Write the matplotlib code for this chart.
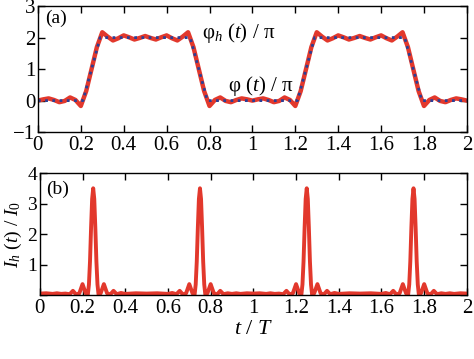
import numpy as np
import matplotlib
matplotlib.use('Agg')
import matplotlib.pyplot as plt

plt.rcParams['font.family'] = 'serif'
plt.rcParams['font.serif'] = ['Liberation Serif', 'DejaVu Serif']
plt.rcParams['mathtext.fontset'] = 'custom'
plt.rcParams['mathtext.rm'] = 'Liberation Serif'
plt.rcParams['mathtext.it'] = 'Liberation Serif:italic'

RED = '#e2382c'
BLUE = '#2b3f96'

# panel (a): phase, sampled every 0.025 T from 0 to 2
t_a = np.round(np.arange(0, 2.0001, 0.025), 3)
phi_h = [0.00, 0.04, 0.07, 0.02, -0.05, -0.01, 0.10, 0.02, -0.17, 0.30,
         1.00, 1.70, 2.17, 2.03, 1.91, 1.98, 2.07, 2.01, 1.94, 1.99,
         2.05, 1.99, 1.94, 2.01, 2.07, 1.98, 1.91, 2.03, 2.17, 1.70,
         1.00, 0.30, -0.17, 0.02, 0.10, -0.01, -0.05, 0.02, 0.07, 0.04,
         0.00, 0.04, 0.07, 0.02, -0.05, -0.01, 0.10, 0.02, -0.17, 0.30,
         1.00, 1.70, 2.17, 2.03, 1.91, 1.98, 2.07, 2.01, 1.94, 1.99,
         2.05, 1.99, 1.94, 2.01, 2.07, 1.98, 1.91, 2.03, 2.17, 1.70,
         1.00, 0.30, -0.17, 0.02, 0.10, -0.01, -0.05, 0.02, 0.07, 0.04,
         0.00]
t_phi = [0, 0.21, 0.29, 0.71, 0.79, 1.21, 1.29, 1.71, 1.79, 2.0]
phi = [0, 0, 2, 2, 0, 0, 2, 2, 0, 0]

# panel (b): intensity
t_b = [0, 0.03, 0.06, 0.08, 0.1, 0.12, 0.14, 0.155, 0.17, 0.185, 0.2, 0.215,
       0.225, 0.23, 0.235, 0.24, 0.245, 0.25, 0.255, 0.26, 0.265, 0.27, 0.275,
       0.285, 0.3, 0.315, 0.33, 0.345, 0.36, 0.38, 0.4, 0.45, 0.5,
       0.55, 0.6, 0.62, 0.64, 0.655, 0.67, 0.685, 0.7, 0.715, 0.725, 0.73,
       0.735, 0.74, 0.745, 0.75, 0.755, 0.76, 0.765, 0.77, 0.775, 0.785, 0.8,
       0.815, 0.83, 0.845, 0.86, 0.88, 0.9, 0.92, 0.94, 0.97,
       1.0, 1.03, 1.06, 1.08, 1.1, 1.12, 1.14, 1.155, 1.17, 1.185, 1.2, 1.215,
       1.225, 1.23, 1.235, 1.24, 1.245, 1.25, 1.255, 1.26, 1.265, 1.27, 1.275,
       1.285, 1.3, 1.315, 1.33, 1.345, 1.36, 1.38, 1.4, 1.45, 1.5,
       1.55, 1.6, 1.62, 1.64, 1.655, 1.67, 1.685, 1.7, 1.715, 1.725, 1.73,
       1.735, 1.74, 1.745, 1.75, 1.755, 1.76, 1.765, 1.77, 1.775, 1.785, 1.8,
       1.815, 1.83, 1.845, 1.86, 1.88, 1.9, 1.92, 1.94, 1.97, 2.0]
I_h = [0.05, 0.06, 0.04, 0.06, 0.04, 0.05, 0.03, 0.14, 0.02, 0.06, 0.36, 0.06,
       0.02, 0.35, 1.1, 2.2, 3.15, 3.5, 3.15, 2.2, 1.1, 0.35, 0.02,
       0.06, 0.36, 0.06, 0.02, 0.14, 0.03, 0.07, 0.04, 0.06, 0.05,
       0.06, 0.04, 0.07, 0.03, 0.14, 0.02, 0.06, 0.36, 0.06, 0.02, 0.35,
       1.1, 2.2, 3.15, 3.5, 3.15, 2.2, 1.1, 0.35, 0.02, 0.06, 0.36,
       0.06, 0.02, 0.14, 0.03, 0.06, 0.04, 0.06, 0.04, 0.06,
       0.05, 0.06, 0.04, 0.06, 0.04, 0.05, 0.03, 0.14, 0.02, 0.06, 0.36, 0.06,
       0.02, 0.35, 1.1, 2.2, 3.15, 3.5, 3.15, 2.2, 1.1, 0.35, 0.02,
       0.06, 0.36, 0.06, 0.02, 0.14, 0.03, 0.07, 0.04, 0.06, 0.05,
       0.06, 0.04, 0.07, 0.03, 0.14, 0.02, 0.06, 0.36, 0.06, 0.02, 0.35,
       1.1, 2.2, 3.15, 3.5, 3.15, 2.2, 1.1, 0.35, 0.02, 0.06, 0.36,
       0.06, 0.02, 0.14, 0.03, 0.06, 0.04, 0.06, 0.04, 0.06, 0.05]

xticks = [0, 0.2, 0.4, 0.6, 0.8, 1, 1.2, 1.4, 1.6, 1.8, 2]
xlabels = ['0', '0.2', '0.4', '0.6', '0.8', '1', '1.2', '1.4', '1.6', '1.8', '2']

fig = plt.figure(figsize=(4.74, 3.59), dpi=100)
ax1 = fig.add_axes([0.080, 0.632, 0.905, 0.351])
ax2 = fig.add_axes([0.084, 0.178, 0.901, 0.340])

ax1.plot(t_a, phi_h, color=RED, lw=3.2)
ax1.plot(t_phi, phi, color=BLUE, lw=2, ls=(0, (1, 1.6)))
ax1.set_xlim(0, 2)
ax1.set_ylim(-1, 3)
ax1.set_yticks([-1, 0, 1, 2, 3])
ax1.set_yticklabels(['\u22121', '0', '1', '2', '3'])
ax1.text(0.035, 2.6, '(a)', fontsize=14, va='center')
ax1.text(0.765, 2.14, '\u03c6$_h$ ($t$) / \u03c0', fontsize=15, va='center')
ax1.text(0.885, 0.45, '\u03c6 ($t$) / \u03c0', fontsize=15, va='center')

ax2.plot(t_b, I_h, color=RED, lw=2.8)
ax2.set_xlim(0, 2)
ax2.set_ylim(0, 4)
ax2.set_yticks([0, 1, 2, 3, 4])
ax2.set_yticklabels(['', '1', '2', '3', '4'])
ax2.text(0.03, 3.45, '(b)', fontsize=14, va='center')
ax2.set_ylabel('$I_h$ ($t$) / $I_0$', fontsize=14)
ax2.yaxis.set_label_coords(-0.036, 0.5)
ax2.set_xlabel('$t$ / $T$', fontsize=16, labelpad=1)

for ax in (ax1, ax2):
    ax.set_xticks(xticks)
    ax.set_xticklabels(xlabels)
    ax.tick_params(direction='in', top=True, right=True, length=5,
                   width=1, labelsize=15, pad=3)
    ax.tick_params(axis='y', pad=2)
    for s in ax.spines.values():
        s.set_linewidth(1)
ax2.tick_params(axis='y', labelsize=14)

fig.savefig('out.png', dpi=100)
